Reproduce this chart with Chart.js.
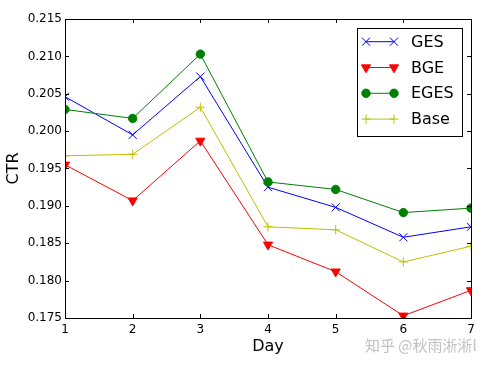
<!DOCTYPE html>
<html><head><meta charset="utf-8">
<script src="https://cdn.jsdelivr.net/npm/chart.js@4/dist/chart.umd.min.js"></script>
<style>html,body{margin:0;padding:0;background:#fff;}#wrap{width:484px;height:366px;position:relative;}</style>
</head><body><div id="wrap"><canvas id="c" width="484" height="366"></canvas></div>
<script>
const days = ['1','2','3','4','5','6','7'];
const ges  = [0.2046,0.1995,0.2073,0.1925,0.1898,0.1858,0.1872];
const bge  = [0.1955,0.1907,0.1987,0.1848,0.1812,0.1753,0.1787];
const eges = [0.2029,0.2017,0.2103,0.1932,0.1922,0.1891,0.1897];
const base = [0.1967,0.1969,0.2032,0.1872,0.1868,0.1825,0.1846];
const yTicks = [0.175,0.180,0.185,0.190,0.195,0.200,0.205,0.210,0.215];
const seriesNames = ['GES','BGE','EGES','Base'];
const xTitle = 'Day';
const yTitle = 'CTR';
const watermark = '知乎 @秋雨淅淅l';

const FONT = 'DejaVu Sans';
const styles = [
  {color:'#0000ff', pointStyle:'crossRot', radius:5.7, rotation:0},
  {color:'#ff0000', pointStyle:'triangle', radius:5.3, rotation:180},
  {color:'#008000', pointStyle:'circle', radius:4.2, rotation:0},
  {color:'#bfbf00', pointStyle:'cross', radius:4.5, rotation:0}
];
const values = [ges, bge, eges, base];

const datasets = values.map((v,i)=>({
  label: seriesNames[i],
  data: v,
  borderColor: styles[i].color,
  backgroundColor: styles[i].color,
  pointBorderColor: styles[i].color,
  pointBackgroundColor: styles[i].color,
  borderWidth: 1,
  pointBorderWidth: 1,
  pointStyle: styles[i].pointStyle,
  pointRadius: styles[i].radius,
  pointRotation: styles[i].rotation,
  pointHoverRadius: styles[i].radius,
  tension: 0,
  fill: false,
  clip: 0,
  order: 4 - i
}));

function drawMarker(ctx, st, x, y){
  ctx.save();
  ctx.translate(x,y);
  ctx.rotate(st.rotation*Math.PI/180);
  ctx.fillStyle = st.color; ctx.strokeStyle = st.color; ctx.lineWidth = 1;
  const r = st.radius;
  ctx.beginPath();
  if (st.pointStyle==='circle'){ ctx.arc(0,0,r,0,Math.PI*2); ctx.fill(); ctx.stroke(); }
  else if (st.pointStyle==='triangle'){
    for (let k=0;k<3;k++){ const a = -Math.PI/2 + k*2*Math.PI/3; const px=r*Math.cos(a), py=r*Math.sin(a); if(k===0) ctx.moveTo(px,py); else ctx.lineTo(px,py);} ctx.closePath(); ctx.fill(); ctx.stroke();
  } else if (st.pointStyle==='crossRot'){
    const d = r*Math.SQRT1_2; ctx.moveTo(-d,-d); ctx.lineTo(d,d); ctx.moveTo(d,-d); ctx.lineTo(-d,d); ctx.stroke();
  } else { ctx.moveTo(-r,0); ctx.lineTo(r,0); ctx.moveTo(0,-r); ctx.lineTo(0,r); ctx.stroke(); }
  ctx.restore();
}

const framePlugin = {
  id:'frame',
  afterDatasetsDraw(chart){
    const {ctx, chartArea:a, scales} = chart;
    ctx.save();
    ctx.strokeStyle = '#000'; ctx.lineWidth = 1;
    ctx.strokeRect(Math.round(a.left)+0.5, Math.round(a.top)+0.5, Math.round(a.right-a.left), Math.round(a.bottom-a.top));
    const tl = 4;
    ctx.beginPath();
    yTicks.forEach(v=>{
      const y = Math.round(scales.y.getPixelForValue(v))+0.5;
      ctx.moveTo(a.left, y); ctx.lineTo(a.left+tl, y);
      ctx.moveTo(a.right, y); ctx.lineTo(a.right-tl, y);
    });
    days.forEach((d,i)=>{
      const x = Math.round(scales.x.getPixelForValue(i))+0.5;
      ctx.moveTo(x, a.bottom); ctx.lineTo(x, a.bottom-tl);
      ctx.moveTo(x, a.top); ctx.lineTo(x, a.top+tl);
    });
    ctx.stroke();
    // legend
    const bx=357, by=28, bw=105, bh=108;
    ctx.fillStyle='#fff'; ctx.fillRect(bx,by,bw,bh);
    ctx.strokeStyle='#000'; ctx.strokeRect(bx+0.5,by+0.5,bw,bh);
    ctx.font = '16px "'+FONT+'"';
    ctx.textBaseline='middle'; ctx.textAlign='left';
    seriesNames.forEach((n,i)=>{
      const y = 41.7 + i*25.8;
      const st = styles[i];
      ctx.strokeStyle = st.color; ctx.lineWidth=1;
      ctx.beginPath(); ctx.moveTo(366,y); ctx.lineTo(394,y); ctx.stroke();
      drawMarker(ctx, st, 366, y); drawMarker(ctx, st, 394, y);
      ctx.fillStyle='#000';
      ctx.fillText(n, 411, y+1);
    });
    // watermark
    ctx.font = '15px "Noto Sans CJK SC"';
    ctx.fillStyle = 'rgba(150,150,150,0.6)';
    ctx.fillText(watermark, 365, 345);
    ctx.restore();
  }
};

new Chart(document.getElementById('c'), {
  type:'line',
  data:{ labels: days, datasets },
  options:{
    responsive:false, animation:false, devicePixelRatio:1,
    layout:{ padding:{ top:19, right:13, left:0, bottom:0 } },
    plugins:{ legend:{display:false}, tooltip:{enabled:false} },
    scales:{
      x:{
        type:'category', offset:false,
        grid:{ display:false, drawTicks:false }, border:{display:false},
        ticks:{ color:'#000', font:{family:FONT, size:12}, padding:5, maxRotation:0, autoSkip:false },
        title:{ display:true, text:xTitle, color:'#000', font:{family:FONT, size:16}, padding:{top:0,bottom:10} },
        afterFit(s){ s.height = 48; }
      },
      y:{
        min:0.175, max:0.215,
        grid:{ display:false, drawTicks:false }, border:{display:false},
        afterBuildTicks(s){ s.ticks = yTicks.map(v=>({value:v})); },
        ticks:{ color:'#000', font:{family:FONT, size:12}, padding:3, callback:(v)=>Number(v).toFixed(3) },
        title:{ display:true, text:yTitle, color:'#000', font:{family:FONT, size:16}, padding:{top:4,bottom:0} },
        afterFit(s){ s.width = 65; }
      }
    }
  },
  plugins:[framePlugin]
});
</script></body></html>
